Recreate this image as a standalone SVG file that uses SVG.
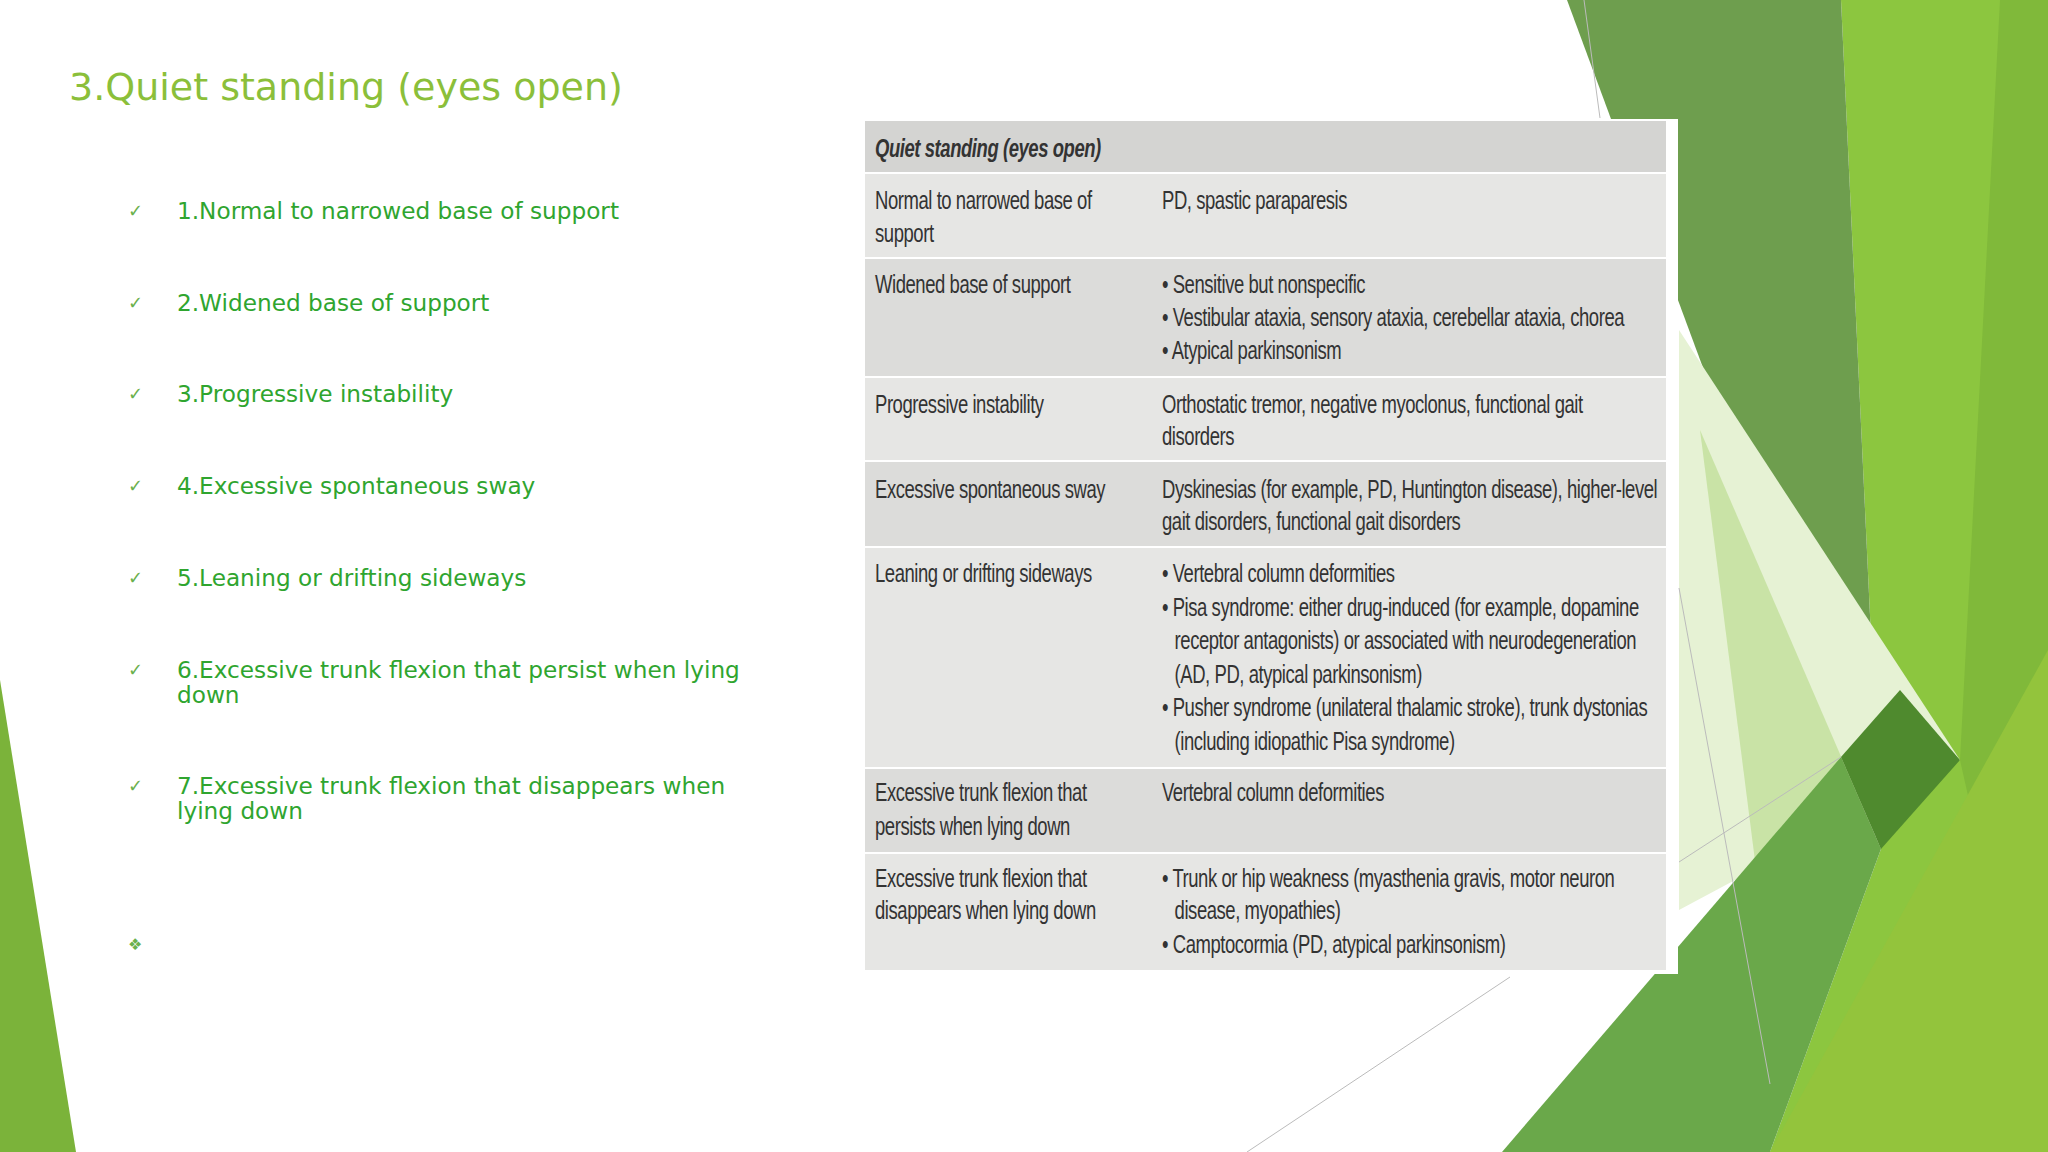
<svg xmlns="http://www.w3.org/2000/svg" width="2048" height="1152" viewBox="0 0 2048 1152">
<style>
.t{font-family:"Liberation Sans","DejaVu Sans",sans-serif;font-size:25px;fill:#333;letter-spacing:-0.6px}
.b{font-family:"DejaVu Sans","Liberation Sans",sans-serif;font-size:23.2px;fill:#2fa52f}
.ck{font-family:"DejaVu Sans",sans-serif;font-size:18px;fill:#6ab04c}
.ln{stroke:#bbb;stroke-width:1;fill:none}
</style>
<rect width="2048" height="1152" fill="#fff"/>
<g id="background">
<polygon points="0,680 76,1152 0,1152" fill="#7bb33a"/>
<polygon points="1841,0 2048,0 2048,1152 1770,1152 1881,849" fill="#8cc63f"/>
<polygon points="2000,0 2048,0 2048,1152 1960,760" fill="#80b93a"/>
<polygon points="1567,0 1841,0 1881,849" fill="#6e9e4e"/>
<polygon points="1679,330 1960,760 1679,910" fill="#e6f2d4"/>
<polygon points="1700,430 1881,849 1760,900" fill="#c9e3a6"/>
<polygon points="1502,1152 1841,757 1881,849 1770,1152" fill="#6aa84a"/>
<polygon points="1770,1152 2048,650 2048,1152" fill="#93c43c"/>
<polygon points="1841,757 1881,849 1960,760 1900,690" fill="#4f8a2e"/>
<line class="ln" x1="1584" y1="0" x2="1600" y2="118"/>
<line class="ln" x1="1679" y1="588" x2="1770" y2="1084"/>
<line class="ln" x1="1247" y1="1152" x2="1510" y2="977"/>
<line class="ln" x1="1679" y1="862" x2="1841" y2="757"/>
</g>
<g id="title"><text x="69" y="100" font-family="'DejaVu Sans','Liberation Sans',sans-serif" font-size="38" fill="#8bbf3a">3.Quiet standing (eyes open)</text></g>
<g id="bullets">
<text class="ck" x="128" y="217">✓</text><text class="b" x="177" y="219">1.Normal to narrowed base of support</text>
<text class="ck" x="128" y="309">✓</text><text class="b" x="177" y="311">2.Widened base of support</text>
<text class="ck" x="128" y="400">✓</text><text class="b" x="177" y="402">3.Progressive instability</text>
<text class="ck" x="128" y="492">✓</text><text class="b" x="177" y="494">4.Excessive spontaneous sway</text>
<text class="ck" x="128" y="584">✓</text><text class="b" x="177" y="586">5.Leaning or drifting sideways</text>
<text class="ck" x="128" y="676">✓</text><text class="b" x="177" y="678">6.Excessive trunk flexion that persist when lying</text><text class="b" x="177" y="703">down</text>
<text class="ck" x="128" y="792">✓</text><text class="b" x="177" y="794">7.Excessive trunk flexion that disappears when</text><text class="b" x="177" y="819">lying down</text>
<text x="128" y="950" font-family="'DejaVu Sans',sans-serif" font-size="16" fill="#6ab04c">❖</text>
</g>
<g id="table">
<rect x="862" y="119" width="816" height="855" fill="#fff"/>
<rect x="865" y="121" width="801" height="51" fill="#d4d4d2"/>
<rect x="865" y="174" width="801" height="83" fill="#e6e6e4"/>
<rect x="865" y="259" width="801" height="117" fill="#dcdcda"/>
<rect x="865" y="378" width="801" height="82" fill="#e6e6e4"/>
<rect x="865" y="462" width="801" height="84" fill="#dcdcda"/>
<rect x="865" y="548" width="801" height="219" fill="#e6e6e4"/>
<rect x="865" y="769" width="801" height="83" fill="#dcdcda"/>
<rect x="865" y="854" width="801" height="116" fill="#e6e6e4"/>
<g transform="translate(875,0) scale(0.74,1)">
<text class="t" x="0" y="157" font-style="italic" font-weight="bold">Quiet standing (eyes open)</text>
<text class="t" x="0" y="209">Normal to narrowed base of</text><text class="t" x="0" y="242">support</text>
<text class="t" x="0" y="293">Widened base of support</text>
<text class="t" x="0" y="413">Progressive instability</text>
<text class="t" x="0" y="498">Excessive spontaneous sway</text>
<text class="t" x="0" y="582">Leaning or drifting sideways</text>
<text class="t" x="0" y="801">Excessive trunk flexion that</text><text class="t" x="0" y="835">persists when lying down</text>
<text class="t" x="0" y="887">Excessive trunk flexion that</text><text class="t" x="0" y="919">disappears when lying down</text>
</g>
<g transform="translate(1162,0) scale(0.74,1)">
<text class="t" x="0" y="209">PD, spastic paraparesis</text>
<text class="t" x="0" y="293">• Sensitive but nonspecific</text>
<text class="t" x="0" y="326">• Vestibular ataxia, sensory ataxia, cerebellar ataxia, chorea</text>
<text class="t" x="0" y="359">• Atypical parkinsonism</text>
<text class="t" x="0" y="413">Orthostatic tremor, negative myoclonus, functional gait</text><text class="t" x="0" y="445">disorders</text>
<text class="t" x="0" y="498">Dyskinesias (for example, PD, Huntington disease), higher-level</text><text class="t" x="0" y="530">gait disorders, functional gait disorders</text>
<text class="t" x="0" y="582">• Vertebral column deformities</text>
<text class="t" x="0" y="616">• Pisa syndrome: either drug-induced (for example, dopamine</text>
<text class="t" x="17" y="649">receptor antagonists) or associated with neurodegeneration</text>
<text class="t" x="17" y="683">(AD, PD, atypical parkinsonism)</text>
<text class="t" x="0" y="716">• Pusher syndrome (unilateral thalamic stroke), trunk dystonias</text>
<text class="t" x="17" y="750">(including idiopathic Pisa syndrome)</text>
<text class="t" x="0" y="801">Vertebral column deformities</text>
<text class="t" x="0" y="887">• Trunk or hip weakness (myasthenia gravis, motor neuron</text>
<text class="t" x="17" y="919">disease, myopathies)</text>
<text class="t" x="0" y="953">• Camptocormia (PD, atypical parkinsonism)</text>
</g>
</g>
</svg>
